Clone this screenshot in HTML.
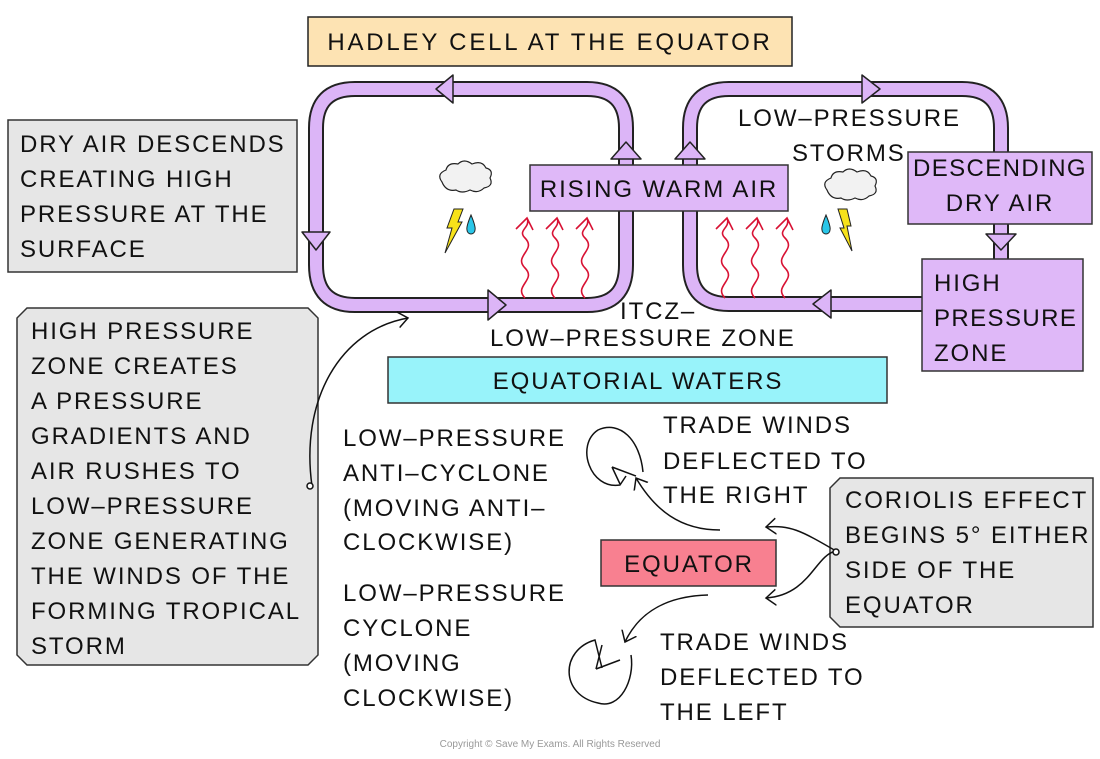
<!DOCTYPE html>
<html><head><meta charset="utf-8"><style>
html,body{margin:0;padding:0;background:#fff;}
svg{display:block}
text{font-family:"Liberation Sans",sans-serif;font-size:24px;letter-spacing:1.9px;fill:#111;}
</style></head><body>
<svg width="1100" height="759" viewBox="0 0 1100 759" xmlns="http://www.w3.org/2000/svg">
<defs>
<marker id="ah" markerWidth="20" markerHeight="20" refX="10" refY="10" orient="auto" markerUnits="userSpaceOnUse">
<path d="M0,2 L10,10 L0,18" fill="none" stroke="#111" stroke-width="1.5"/></marker>
</defs>
<!-- title -->
<rect x="308" y="17" width="484" height="49" fill="#fde3b3" stroke="#222" stroke-width="1.5"/>
<text x="550" y="50" text-anchor="middle" style="letter-spacing:2.8px">HADLEY CELL AT THE EQUATOR</text>

<g fill="none" stroke-linejoin="round">
<path d="M626,165 L626,128 Q626,89 587,89 L355,89 Q316,89 316,128 L316,265 Q316,305 355,305 L587,305 Q626,305 626,265 L626,211" stroke="#222" stroke-width="16"/>
<path d="M626,165 L626,128 Q626,89 587,89 L355,89 Q316,89 316,128 L316,265 Q316,305 355,305 L587,305 Q626,305 626,265 L626,211" stroke="#dcb5f7" stroke-width="12"/>
<path d="M690,165 L690,128 Q690,89 729,89 L962,89 Q1001,89 1001,128 L1001,152" stroke="#222" stroke-width="16"/>
<path d="M690,165 L690,128 Q690,89 729,89 L962,89 Q1001,89 1001,128 L1001,152" stroke="#dcb5f7" stroke-width="12"/>
<path d="M690,211 L690,265 Q690,304 729,304 L922,304" stroke="#222" stroke-width="16"/>
<path d="M690,211 L690,265 Q690,304 729,304 L924,304" stroke="#dcb5f7" stroke-width="12"/>
<path d="M1001,224 L1001,259" stroke="#222" stroke-width="16"/>
<path d="M1001,222 L1001,261" stroke="#dcb5f7" stroke-width="12"/>
</g>
<g fill="#dcb5f7" stroke="#222" stroke-width="1.5" stroke-linejoin="round">
<polygon points="453,75 436,89 453,103"/>
<polygon points="302,232 316,250 330,232"/>
<polygon points="488,290 506,305 488,320"/>
<polygon points="611,159 626,142 641,159"/>
<polygon points="675,159 690,142 705,159"/>
<polygon points="862,75 880,89 862,103"/>
<polygon points="831,290 813,304 831,318"/>
<polygon points="986,234 1001,250 1016,234"/>
</g>

<rect x="8" y="120" width="289" height="152" fill="#e6e6e6" stroke="#333" stroke-width="1.5"/>
<text x="20" y="152">DRY AIR DESCENDS</text>
<text x="20" y="187">CREATING HIGH</text>
<text x="20" y="222">PRESSURE AT THE</text>
<text x="20" y="257">SURFACE</text>

<rect x="530" y="165" width="258" height="46" fill="#dfb8f8" stroke="#333" stroke-width="1.5"/>
<text x="659" y="197" text-anchor="middle">RISING WARM AIR</text>

<rect x="908" y="152" width="184" height="72" fill="#dfb8f8" stroke="#333" stroke-width="1.5"/>
<text x="1000" y="176" text-anchor="middle" style="letter-spacing:1.4px">DESCENDING</text>
<text x="1000" y="211" text-anchor="middle">DRY AIR</text>

<rect x="922" y="259" width="161" height="112" fill="#dfb8f8" stroke="#333" stroke-width="1.5"/>
<text x="934" y="291">HIGH</text>
<text x="934" y="326" style="letter-spacing:1.4px">PRESSURE</text>
<text x="934" y="361">ZONE</text>

<polygon points="27,308 308,308 318,318 318,655 308,665 27,665 17,655 17,318" fill="#e6e6e6" stroke="#333" stroke-width="1.5"/>
<text x="31" y="339">HIGH PRESSURE</text>
<text x="31" y="374">ZONE CREATES</text>
<text x="31" y="409">A PRESSURE</text>
<text x="31" y="444">GRADIENTS AND</text>
<text x="31" y="479">AIR RUSHES TO</text>
<text x="31" y="514">LOW–PRESSURE</text>
<text x="31" y="549">ZONE GENERATING</text>
<text x="31" y="584">THE WINDS OF THE</text>
<text x="31" y="619">FORMING TROPICAL</text>
<text x="31" y="654">STORM</text>

<rect x="388" y="357" width="499" height="46" fill="#98f3fa" stroke="#333" stroke-width="1.5"/>
<text x="638" y="389" text-anchor="middle">EQUATORIAL WATERS</text>

<polygon points="840,478 1093,478 1093,627 840,627 830,617 830,488" fill="#e6e6e6" stroke="#333" stroke-width="1.5"/>
<text x="845" y="508">CORIOLIS EFFECT</text>
<text x="845" y="543">BEGINS 5° EITHER</text>
<text x="845" y="578">SIDE OF THE</text>
<text x="845" y="613">EQUATOR</text>

<rect x="601" y="540" width="175" height="46" fill="#f88090" stroke="#333" stroke-width="1.5"/>
<text x="689" y="572" text-anchor="middle">EQUATOR</text>

<text x="738" y="126">LOW–PRESSURE</text>
<text x="792" y="161">STORMS</text>
<text x="620" y="319">ITCZ–</text>
<text x="490" y="346">LOW–PRESSURE ZONE</text>
<text x="343" y="446">LOW–PRESSURE</text>
<text x="343" y="481">ANTI–CYCLONE</text>
<text x="343" y="516">(MOVING ANTI–</text>
<text x="343" y="550">CLOCKWISE)</text>
<text x="343" y="601">LOW–PRESSURE</text>
<text x="343" y="636">CYCLONE</text>
<text x="343" y="671">(MOVING</text>
<text x="343" y="706">CLOCKWISE)</text>
<text x="663" y="433">TRADE WINDS</text>
<text x="663" y="469">DEFLECTED TO</text>
<text x="663" y="503">THE RIGHT</text>
<text x="660" y="650">TRADE WINDS</text>
<text x="660" y="685">DEFLECTED TO</text>
<text x="660" y="720">THE LEFT</text>
<text x="550" y="747" text-anchor="middle" style="font-size:10px;letter-spacing:0;fill:#999">Copyright © Save My Exams. All Rights Reserved</text>

<g fill="none" stroke="#d81234" stroke-width="1.6">
<path id="w" d="M525,298 c-12,-12 12,-18 0,-30 c-12,-12 12,-18 0,-30 c-8,-8 6,-10 2,-20 M516,229 l11,-11 l6,12"/>
<use href="#w" x="30"/><use href="#w" x="60"/>
<use href="#w" x="200"/><use href="#w" x="230"/><use href="#w" x="260"/>
</g>
<g fill="#f2f2f2" stroke="#222" stroke-width="1.2">
<path d="M442,182 q-6,-8 4,-12 q2,-8 12,-6 q6,-6 14,0 q10,-4 14,4 q8,2 4,10 q4,8 -6,10 q-6,6 -14,2 q-8,4 -14,0 q-10,2 -14,-8z"/>
<path d="M827,190 q-6,-8 4,-12 q2,-8 12,-6 q6,-6 14,0 q10,-4 14,4 q8,2 4,10 q4,8 -6,10 q-6,6 -14,2 q-8,4 -14,0 q-10,2 -14,-8z"/>
</g>
<g fill="#f7e21a" stroke="#222" stroke-width="1">
<polygon points="454,209 463,209 458,222 462,222 445,253 452,228 447,228"/>
<polygon points="838,209 847,209 851,226 847,226 852,251 840,228 844,228"/>
</g>
<g fill="#2ac6e8" stroke="#222" stroke-width="1">
<path d="M471,215 q-5,12 -4,15 a4,4 0 0 0 8,0 q1,-3 -4,-15z"/>
<path d="M826,215 q-5,12 -4,15 a4,4 0 0 0 8,0 q1,-3 -4,-15z"/>
</g>

<g fill="none" stroke="#111" stroke-width="1.5">
<path d="M312,486 C300,400 340,330 408,318" marker-end="url(#ah)"/>
<path d="M836,551 C800,530 790,525 766,527" marker-end="url(#ah)"/>
<path d="M836,551 C815,555 810,595 766,598" marker-end="url(#ah)"/>
<path d="M720,530 C680,530 655,510 636,478" marker-end="url(#ah)"/>
<path d="M643,472 C640,440 620,420 598,430 C575,445 590,490 620,485 L626,476" />
<path d="M612,467 L636,476 M612,467 L620,484"/>
<path d="M708,595 C670,596 640,610 625,642" marker-end="url(#ah)"/>
<path d="M631,655 C635,680 620,710 598,703 C560,695 560,650 595,640 L602,668"/>
<path d="M596,669 L620,660 M596,669 L602,645"/>
<circle cx="836" cy="552" r="3" fill="#fff"/>
<circle cx="310" cy="486" r="3" fill="#fff"/>
</g>
</svg>
</body></html>
